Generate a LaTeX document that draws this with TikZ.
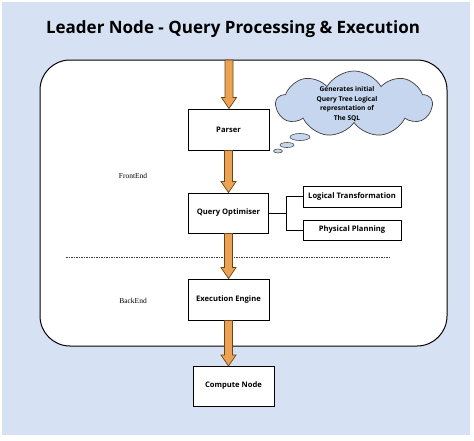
\documentclass[tikz,border=0pt]{standalone}
\usepackage{fontspec}
\setmainfont{Liberation Serif}
\newfontfamily\comicf{Open Sans}
\usetikzlibrary{shapes.symbols,shapes.geometric,calc}
\definecolor{bgblue}{HTML}{D6E2F3}
\definecolor{cloudblue}{HTML}{C6D6EE}
\definecolor{arrowor}{HTML}{EBA253}
\definecolor{arrowline}{HTML}{6B4318}
\tikzset{
  boxnode/.style={draw=black, line width=0.9pt, fill=white, font=\comicf\bfseries\fontsize{7.6}{8}\selectfont, inner sep=0pt},
  lbl/.style={font=\fontsize{7.5}{8}\selectfont, inner sep=0pt},
  fatarr/.style={draw=arrowline, fill=arrowor, line width=0.7pt, line join=miter},
  conn/.style={draw=black, line width=0.9pt},
  bubble/.style={draw=black!70, fill=cloudblue, line width=0.6pt},
}
\newcommand\fatarrow[2]{%
  \path[fatarr] let \p1=(#1), \p2=(#2) in
    (\x1-4pt,\y1) -- (\x1+4pt,\y1) -- (\x1+4pt,\y2+11pt) -- (\x1+7.5pt,\y2+11pt)
    -- (\x1,\y2) -- (\x1-7.5pt,\y2+11pt) -- (\x1-4pt,\y2+11pt) -- cycle;}
\begin{document}
\begin{tikzpicture}[x=1pt,y=-1pt]
\useasboundingbox (0,0) rectangle (474,440);
\fill[bgblue] (2,2) rectangle (470,435);
\node[font=\comicf\bfseries\fontsize{17}{20}\selectfont, inner sep=0pt] (title) at (233,29) {Leader Node - Query Processing \& Execution};
\draw[line width=1pt, fill=white, rounded corners=30pt] (40,60) rectangle (447,346);
\coordinate (top) at (229,60);
\node[boxnode, minimum width=81pt, minimum height=41pt] (parser) at (228.5,129.5) {Parser};
\node[boxnode, minimum width=80pt, minimum height=40pt] (qo) at (228.5,213) {Query Optimiser};
\node[boxnode, minimum width=98pt, minimum height=21pt] (lt) at (352,196.5) {Logical Transformation};
\node[boxnode, minimum width=98pt, minimum height=20pt] (pp) at (352,230) {Physical Planning};
\node[boxnode, minimum width=81pt, minimum height=41pt] (ee) at (228.5,299.5) {Execution Engine};
\node[boxnode, minimum width=81pt, minimum height=40pt] (cn) at (233.5,386) {Compute Node};
\node[lbl] (fe) at (133,176) {FrontEnd};
\node[lbl] (be) at (133,301) {BackEnd};
\coordinate (dl) at (66,257);
\coordinate (dr) at (389,257);
\draw[black!75, line width=0.5pt, dash pattern=on 1.5pt off 1pt] (dl) -- (dr);
% cloud
\node[cloud, cloud puffs=9, cloud puff arc=120, aspect=2.5, draw=black!75, fill=cloudblue, line width=0.7pt, minimum width=156pt, minimum height=66pt, inner sep=0pt] (cloud) at (354,104) {};
\node[font=\comicf\bfseries\fontsize{6.6}{9.7}\selectfont, align=center, inner sep=0pt] (ctext) at (347,104) {Generates initial\\Query Tree Logical\\represntation of\\The SQL};
\node[bubble, ellipse, minimum width=20pt, minimum height=7pt, inner sep=0pt] (b1) at (300,137) {};
\node[bubble, ellipse, minimum width=14pt, minimum height=5pt, inner sep=0pt] (b2) at (287,145) {};
\node[bubble, ellipse, minimum width=9pt, minimum height=4pt, inner sep=0pt] (b3) at (278,151) {};
% connectors
\coordinate (j) at ($(qo.east)+(17,0)$);
\draw[conn] (qo.east) -- (j);
\draw[conn] (lt.west) -| (j) |- (pp.west);
% arrows
\fatarrow{top}{parser.north}
\fatarrow{parser.south}{qo.north}
\fatarrow{qo.south}{ee.north}
\coordinate (cntop) at (228,366);
\fatarrow{ee.south}{cntop}
\end{tikzpicture}
\end{document}
